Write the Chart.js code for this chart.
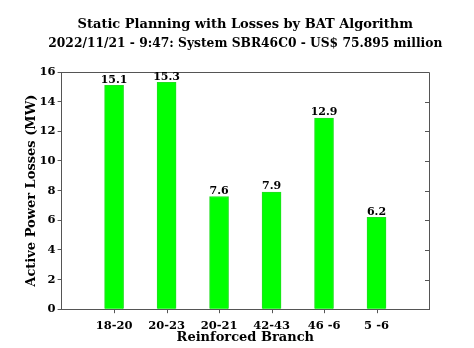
<!DOCTYPE html>
<html>
<head>
<meta charset="utf-8">
<script src="https://cdn.jsdelivr.net/npm/chart.js@4"></script>
<style>
  body { margin: 0; background: #fff; }
  #wrap { width: 474px; height: 348px; }
</style>
</head>
<body>
<div id="wrap"><canvas id="lossChart" width="474" height="348"></canvas></div>
<script>
// data
var branches = ['18-20', '20-23', '20-21', '42-43', '46 -6', '5 -6'];
var losses = [15.1, 15.3, 7.6, 7.9, 12.9, 6.2];
var titleLines = ['Static Planning with Losses by BAT Algorithm',
                  '2022/11/21 - 9:47: System SBR46C0 - US$ 75.895 million'];
var xTitle = 'Reinforced Branch';
var yTitle = 'Active Power Losses (MW)';

// empty slots at both ends so the bars sit at 1..6 on a 0..7 axis
var labels = [''].concat(branches).concat(['']);
var values = [null].concat(losses).concat([null]);

var axisColor = '#555';
var font = 'DejaVu Serif';

var framePlugin = {
  id: 'frame',
  afterDraw: function(chart){
    var ctx = chart.ctx;
    var a = chart.chartArea;
    var y = chart.scales.y;
    var x = chart.scales.x;
    ctx.save();
    ctx.strokeStyle = axisColor;
    ctx.lineWidth = 1;
    ctx.beginPath();
    ctx.moveTo(a.left, a.top + 0.5);
    ctx.lineTo(a.right + 0.5, a.top + 0.5);
    ctx.lineTo(a.right + 0.5, a.bottom);
    // inward ticks on the right side
    for (var v = 0; v <= 16; v += 2) {
      var py = Math.round(y.getPixelForValue(v)) + 0.5;
      ctx.moveTo(a.right, py);
      ctx.lineTo(a.right - 4, py);
    }
    // ticks under each branch
    for (var i = 1; i <= branches.length; i++) {
      var px = Math.round(x.getPixelForValue(i)) + 0.5;
      ctx.moveTo(px, a.bottom);
      ctx.lineTo(px, a.bottom + 4);
    }
    ctx.stroke();

    var cx = (a.left + a.right) / 2;
    ctx.fillStyle = '#000';
    ctx.textAlign = 'center';
    ctx.textBaseline = 'middle';
    ctx.font = 'bold 13px "' + font + '"';
    ctx.fillText(titleLines[0], cx, 25);
    ctx.fillText(titleLines[1], cx, 44, 394);
    ctx.fillText(xTitle, cx, 338);

    // value labels above bars
    ctx.font = 'bold 11px "' + font + '"';
    ctx.textBaseline = 'bottom';
    chart.getDatasetMeta(0).data.forEach(function(bar, i){
      if (values[i] == null) return;
      ctx.fillText(values[i].toFixed(1), bar.x, bar.y);
    });
    ctx.restore();
  }
};

new Chart(document.getElementById('lossChart'), {
  type: 'bar',
  data: {
    labels: labels,
    datasets: [{
      data: values,
      backgroundColor: '#00ff00',
      borderColor: '#22dd22',
      borderWidth: 1,
      barThickness: 19
    }]
  },
  options: {
    responsive: false,
    animation: false,
    layout: { padding: { top: 72, right: 45, left: 24, bottom: 13 } },
    plugins: {
      legend: { display: false },
      tooltip: { enabled: false },
      title: { display: false }
    },
    scales: {
      x: {
        offset: false,
        grid: { display: false },
        border: { display: true, color: axisColor },
        ticks: {
          color: '#000',
          autoSkip: false,
          maxRotation: 0,
          padding: 2,
          font: { family: font, size: 11.5, weight: 'bold' }
        }
      },
      y: {
        min: 0,
        max: 16,
        ticks: {
          stepSize: 2,
          color: '#000',
          padding: 2,
          font: { family: font, size: 11.5, weight: 'bold' }
        },
        grid: { drawOnChartArea: false, drawTicks: true, tickLength: 4, color: axisColor },
        border: { color: axisColor },
        title: {
          display: true,
          text: yTitle,
          color: '#000',
          padding: { top: 0, bottom: -2 },
          font: { family: font, size: 13, weight: 'bold' }
        }
      }
    }
  },
  plugins: [framePlugin]
});
</script>
</body>
</html>
